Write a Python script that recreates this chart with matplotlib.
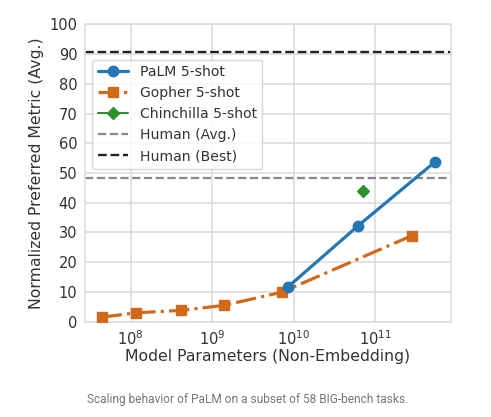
import numpy as np
import matplotlib
matplotlib.use("Agg")
import matplotlib.pyplot as plt
import seaborn as sns

# data
palm_params = [8.6e9, 6.2e10, 5.4e11]
palm_score = [11.8, 32.3, 53.7]

gopher_params = [4.4e7, 1.17e8, 4.17e8, 1.4e9, 7.1e9, 2.8e11]
gopher_score = [1.5, 3.0, 3.8, 5.5, 9.9, 28.9]

chinchilla_params = [7.0e10]
chinchilla_score = [44.1]

human_avg = 48.3
human_best = 90.8

yticks = list(range(0, 101, 10))

sns.set_style("whitegrid")
plt.rcParams['font.family'] = ['DejaVu Sans']

fig = plt.figure(figsize=(4.91, 4.17), dpi=100)
ax = fig.add_axes([85 / 491, 1 - 321.7 / 417, (451 - 85) / 491, (321.7 - 24.3) / 417])

ax.plot(palm_params, palm_score, '-o', color='#2477b3', lw=2.3, ms=7.5,
        label='PaLM 5-shot', zorder=4)
ax.plot(gopher_params, gopher_score, '-.s', color='#d2691a', lw=2.3, ms=6.5,
        label='Gopher 5-shot', zorder=3)
ax.plot(chinchilla_params, chinchilla_score, '-D', color='#2e9130', lw=1.5, ms=6,
        label='Chinchilla 5-shot', zorder=3)
ax.axhline(human_avg, color='#888888', ls='--', lw=1.6, label='Human (Avg.)')
ax.axhline(human_best, color='#222222', ls='--', lw=1.7, label='Human (Best)')

ax.set_xscale('log')
ax.set_xlim(10 ** 7.44, 10 ** 11.93)
ax.set_ylim(0, 100)
ax.set_yticks(yticks)
ax.minorticks_off()
ax.tick_params(labelsize=10.5, colors='#333333', pad=2)
for s in ax.spines.values():
    s.set_color('#dddddd')
    s.set_linewidth(1.2)
ax.grid(True, color='#dddddd', lw=1.2)

ax.set_xlabel('Model Parameters (Non-Embedding)', fontsize=11.3, color='#333333', labelpad=1)
ax.set_ylabel('Normalized Preferred Metric (Avg.)', fontsize=11.3, color='#333333', labelpad=4)

leg = ax.legend(loc='upper left', bbox_to_anchor=(0.0, 0.905), fontsize=10.1,
                frameon=True, borderpad=0.4, labelspacing=0.5, handlelength=2.2)
for t in leg.get_texts():
    t.set_color('#333333')

fig.text(248 / 491, 1 - 399 / 417, 'Scaling behavior of PaLM on a subset of 58 BIG-bench tasks.',
         ha='center', va='center', fontsize=8.6, color='#777777', family=['Roboto', 'DejaVu Sans'])

fig.savefig('out.png', dpi=100)
